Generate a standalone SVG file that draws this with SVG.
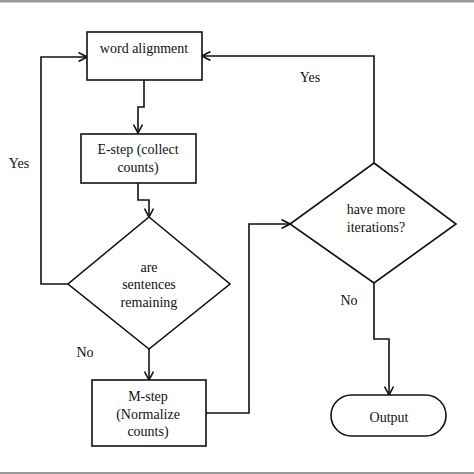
<svg xmlns="http://www.w3.org/2000/svg" width="474" height="474" viewBox="0 0 474 474">
<style>
.s{fill:#fff;stroke:#111;stroke-width:1.6}
.c{fill:none;stroke:#111;stroke-width:1.6}
text{font-family:"Liberation Serif","Times New Roman",serif;font-size:14px;fill:#111;text-anchor:middle}
</style>
<defs>
<marker id="ah" viewBox="0 0 10 10" refX="9.5" refY="5" markerWidth="10" markerHeight="10" markerUnits="userSpaceOnUse" orient="auto">
<path d="M1,0.5 L9.5,5 L1,9.5" fill="none" stroke="#111" stroke-width="1.6"/>
</marker>
</defs>
<rect x="0" y="0" width="474" height="474" fill="#fff"/>
<rect x="0" y="0" width="474" height="2.5" fill="#9a9a9a"/>
<rect x="0" y="472" width="474" height="2" fill="#9a9a9a"/>
<g id="connectors">
<path class="c" d="M144,80 V107 H138 V133" marker-end="url(#ah)"/>
<path class="c" d="M138,183 V200 H149 V217" marker-end="url(#ah)"/>
<path class="c" d="M68,284 H41 V57 H87" marker-end="url(#ah)"/>
<path class="c" d="M149,349 V380" marker-end="url(#ah)"/>
<path class="c" d="M206,413 H249 V224 H290" marker-end="url(#ah)"/>
<path class="c" d="M374,163 V56 H202" marker-end="url(#ah)"/>
<path class="c" d="M374,283 V339 H389 V395" marker-end="url(#ah)"/>
<text x="19" y="168">Yes</text>
<text x="310" y="82">Yes</text>
<text x="85" y="357">No</text>
<text x="349" y="305">No</text>
</g>
<g id="word-alignment">
<rect class="s" x="87" y="32" width="115" height="48"/>
<text x="144" y="53">word alignment</text>
</g>
<g id="e-step">
<rect class="s" x="81" y="134" width="115" height="49"/>
<text x="138" y="154">E-step (collect</text>
<text x="138" y="172">counts)</text>
</g>
<g id="sentences-remaining">
<polygon class="s" points="149,217 230,284 149,349 68,284"/>
<text x="149" y="272">are</text>
<text x="149" y="289">sentences</text>
<text x="149" y="307">remaining</text>
</g>
<g id="m-step">
<rect class="s" x="92" y="380" width="114" height="66"/>
<text x="148" y="401">M-step</text>
<text x="148" y="419">(Normalize</text>
<text x="148" y="436">counts)</text>
</g>
<g id="more-iterations">
<polygon class="s" points="374,163 456,224 374,283 290,224"/>
<text x="376" y="214">have more</text>
<text x="376" y="232">iterations?</text>
</g>
<g id="output">
<rect class="s" x="331" y="395" width="115" height="41" rx="20.5" ry="20.5"/>
<text x="389" y="422">Output</text>
</g>
</svg>
